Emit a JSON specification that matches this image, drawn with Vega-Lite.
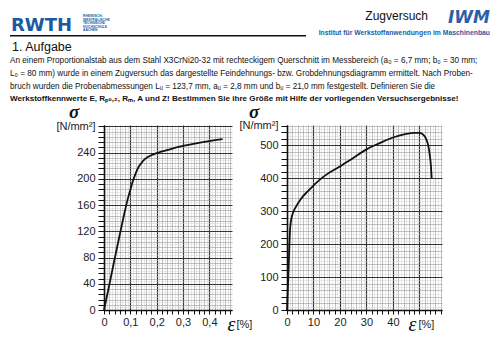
{
  "$schema": "https://vega.github.io/schema/vega-lite/v6.json",
  "padding": {"left": 10, "top": 8, "right": 8, "bottom": 5},
  "bounds": "flush",
  "spacing": 0,
  "config": {
    "font": "Liberation Sans",
    "view": {"stroke": null},
    "axis": {
      "labelFont": "Liberation Sans", "labelFontSize": 11, "labelColor": "#222",
      "labelFlush": false, "labelOverlap": false, "labelBound": false,
      "domainColor": "#111", "domainWidth": 1.5, "tickColor": "#111", "tickWidth": 1,
      "grid": true
    }
  },
  "vconcat": [
    {
      "hconcat": [
        {
          "width": 72, "height": 1.5,
          "data": {"values": [{}]},
          "mark": {"type": "text", "text": ""},
          "view": {"fill": "#111", "stroke": null},
          "title": {"text": "RWTH", "anchor": "start", "frame": "group", "orient": "top", "font": "DejaVu Sans", "fontSize": 18, "fontWeight": "bold", "color": "#1b5aa3", "offset": -5, "dx": 1}
        },
        {
          "width": 28, "height": 1.5,
          "data": {"values": [{}]},
          "mark": {"type": "text", "text": ""},
          "view": {"fill": "#111", "stroke": null},
          "title": {"text": ["RHEINISCH-", "WESTFÄLISCHE", "TECHNISCHE", "HOCHSCHULE", "AACHEN"], "anchor": "start", "frame": "group", "orient": "top", "fontSize": 3.4, "lineHeight": 3.6, "fontWeight": "bold", "color": "#1b5aa3", "offset": -2, "dx": 1}
        },
        {
          "width": 196, "height": 1.5,
          "data": {"values": [{}]},
          "mark": {"type": "text", "text": ""},
          "view": {"fill": "#111", "stroke": null}
        },
        {
          "width": 130, "height": 1.5,
          "data": {"values": [{}]},
          "mark": {"type": "text", "text": ""},
          "title": {"text": "Zugversuch", "anchor": "end", "frame": "group", "orient": "top", "fontSize": 12, "fontWeight": "normal", "color": "#111", "offset": 7, "dx": -8}
        },
        {
          "width": 54, "height": 1.5,
          "data": {"values": [{}]},
          "mark": {"type": "text", "text": ""},
          "title": {"text": "IWM", "subtitle": "Institut für Werkstoffanwendungen im Maschinenbau", "anchor": "end", "frame": "group", "orient": "top", "font": "DejaVu Sans", "fontSize": 17, "fontWeight": "bold", "fontStyle": "italic", "color": "#2f5ea8", "subtitleFont": "Liberation Sans", "subtitleFontSize": 6.8, "subtitleFontWeight": "bold", "subtitleColor": "#2a5aa5", "subtitlePadding": 3, "offset": -8}
        }
      ],
      "spacing": 0,
      "bounds": "flush"
    },
    {
      "width": 480, "height": 0.01,
      "data": {"values": [{}]},
      "mark": {"type": "text", "text": ""},
      "title": {"text": "1. Aufgabe", "orient": "bottom", "anchor": "start", "frame": "group", "fontSize": 12.5, "fontWeight": "normal", "color": "#111", "offset": 1, "dx": 2}
    },
    {
      "width": 480, "height": 88.5,
      "data": {"values": [{}]},
      "mark": {"type": "text", "text": ""},
      "title": {
        "text": [
          "An einem Proportionalstab aus dem Stahl X3CrNi20-32 mit rechteckigem Querschnitt im Messbereich (a₀ = 6,7 mm; b₀ = 30 mm;",
          "L₀ = 80 mm) wurde in einem Zugversuch das dargestellte Feindehnungs- bzw. Grobdehnungsdiagramm ermittelt. Nach Proben-",
          "bruch wurden die Probenabmessungen Lᵤ = 123,7 mm, aᵤ = 2,8 mm und bᵤ = 21,0 mm festgestellt. Definieren Sie die"
        ],
        "subtitle": "Werkstoffkennwerte E, Rₚ₀,₂, Rₘ, A und Z! Bestimmen Sie ihre Größe mit Hilfe der vorliegenden Versuchsergebnisse!",
        "orient": "top", "anchor": "start", "frame": "group",
        "fontSize": 8.2, "lineHeight": 13, "fontWeight": "normal", "color": "#111",
        "subtitleFontSize": 8.1, "subtitleFontWeight": "bold", "subtitleColor": "#111", "subtitleLineHeight": 13, "subtitlePadding": 4,
        "offset": -68.5
      }
    },
    {
      "hconcat": [
        {
          "width": 39, "height": 185,
          "data": {"values": [{}]},
          "mark": {"type": "text", "text": ""}
        },
        {
          "width": 128, "height": 185,
          "data": {"values": [
            {"e": 0, "s": 0}, {"e": 0.02, "s": 38}, {"e": 0.04, "s": 77}, {"e": 0.06, "s": 115},
            {"e": 0.08, "s": 152}, {"e": 0.09, "s": 169}, {"e": 0.1, "s": 183}, {"e": 0.11, "s": 197},
            {"e": 0.12, "s": 208}, {"e": 0.13, "s": 217}, {"e": 0.14, "s": 223}, {"e": 0.15, "s": 228},
            {"e": 0.17, "s": 234}, {"e": 0.2, "s": 239}, {"e": 0.25, "s": 245}, {"e": 0.3, "s": 250},
            {"e": 0.35, "s": 254}, {"e": 0.4, "s": 257.5}, {"e": 0.45, "s": 260.5}
          ]},
          "title": {"text": "σ", "anchor": "start", "align": "center", "frame": "group", "orient": "top", "font": "Liberation Serif", "fontStyle": "italic", "fontWeight": "bold", "fontSize": 19, "color": "#111", "dx": -30, "offset": -2},
          "mark": {"type": "line", "color": "#111", "strokeWidth": 1.8, "interpolate": "monotone"},
          "encoding": {
            "x": {
              "field": "e", "type": "quantitative",
              "scale": {"domain": [0, 0.486], "nice": false, "zero": false},
              "axis": {
                "values": [0,0.01,0.02,0.03,0.04,0.05,0.06,0.07,0.08,0.09,0.1,0.11,0.12,0.13,0.14,0.15,0.16,0.17,0.18,0.19,0.2,0.21,0.22,0.23,0.24,0.25,0.26,0.27,0.28,0.29,0.3,0.31,0.32,0.33,0.34,0.35,0.36,0.37,0.38,0.39,0.4,0.41,0.42,0.43,0.44,0.45,0.46,0.47,0.48],
                "labelExpr": "round(datum.value*100) % 10 == 0 ? (datum.value == 0 ? '0' : replace(format(datum.value, '.1f'), '.', ',')) : ''",
                "labelPadding": 2,
                "tickSize": 4,
                "tickOpacity": {"condition": {"test": "round(datum.value*100) % 2 == 0", "value": 1}, "value": 0},
                "gridColor": {"condition": [{"test": "round(datum.value*100) % 10 == 0", "value": "#333333"}, {"test": "round(datum.value*100) % 2 == 0", "value": "#999999"}], "value": "#d2d2d2"},
                "gridWidth": {"condition": [{"test": "round(datum.value*100) % 10 == 0", "value": 1.2}, {"test": "round(datum.value*100) % 2 == 0", "value": 0.6}], "value": 0.5},
                "title": "ε", "titleFont": "Liberation Serif", "titleFontStyle": "italic", "titleFontWeight": "normal", "titleFontSize": 20, "titleColor": "#111",
                "titleX": 127, "titleY": 14, "titleAlign": "center", "titleBaseline": "middle", "titleAngle": 0
              }
            },
            "y": {
              "field": "s", "type": "quantitative",
              "scale": {"domain": [0, 282], "nice": false, "zero": false},
              "axis": {
                "values": [0,4,8,12,16,20,24,28,32,36,40,44,48,52,56,60,64,68,72,76,80,84,88,92,96,100,104,108,112,116,120,124,128,132,136,140,144,148,152,156,160,164,168,172,176,180,184,188,192,196,200,204,208,212,216,220,224,228,232,236,240,244,248,252,256,260,264,268,272,276,280],
                "labelExpr": "datum.value == 280 ? '[N/mm²]' : (datum.value % 40 == 0 ? format(datum.value, 'd') : '')",
                "labelPadding": 3,
                "tickSize": 6,
                "tickOpacity": {"condition": {"test": "datum.value % 8 == 0", "value": 1}, "value": 0},
                "gridColor": {"condition": [{"test": "datum.value % 40 == 0", "value": "#333333"}, {"test": "datum.value % 8 == 0", "value": "#999999"}], "value": "#d2d2d2"},
                "gridWidth": {"condition": [{"test": "datum.value % 40 == 0", "value": 1.2}, {"test": "datum.value % 8 == 0", "value": 0.6}], "value": 0.5},
                "title": "[%]", "titleFont": "Liberation Sans", "titleFontWeight": "normal", "titleFontSize": 11, "titleColor": "#222",
                "titleX": 132, "titleY": 199, "titleAlign": "left", "titleBaseline": "middle", "titleAngle": 0
              }
            }
          }
        },
        {
          "width": 155, "height": 185,
          "data": {"values": [
            {"e": 0, "s": 0}, {"e": 0.5, "s": 100}, {"e": 0.9, "s": 200}, {"e": 1.2, "s": 250},
            {"e": 1.6, "s": 275}, {"e": 2.5, "s": 300}, {"e": 4, "s": 322}, {"e": 6, "s": 345},
            {"e": 8, "s": 362}, {"e": 10, "s": 378}, {"e": 12.5, "s": 397}, {"e": 15, "s": 412},
            {"e": 20, "s": 436}, {"e": 25, "s": 462}, {"e": 30, "s": 488}, {"e": 35, "s": 507},
            {"e": 40, "s": 524}, {"e": 45, "s": 535}, {"e": 48, "s": 538}, {"e": 50, "s": 538},
            {"e": 51.5, "s": 532}, {"e": 52.5, "s": 520}, {"e": 53.3, "s": 500}, {"e": 53.9, "s": 470},
            {"e": 54.3, "s": 440}, {"e": 54.6, "s": 400}
          ]},
          "title": {"text": "σ", "anchor": "start", "align": "center", "frame": "group", "orient": "top", "font": "Liberation Serif", "fontStyle": "italic", "fontWeight": "bold", "fontSize": 19, "color": "#111", "dx": -33, "offset": -2},
          "mark": {"type": "line", "color": "#111", "strokeWidth": 1.8, "interpolate": "monotone"},
          "encoding": {
            "x": {
              "field": "e", "type": "quantitative",
              "scale": {"domain": [0, 58.5], "nice": false, "zero": false},
              "axis": {
                "values": [0,1,2,3,4,5,6,7,8,9,10,11,12,13,14,15,16,17,18,19,20,21,22,23,24,25,26,27,28,29,30,31,32,33,34,35,36,37,38,39,40,41,42,43,44,45,46,47,48,49,50,51,52,53,54,55,56,57,58],
                "labelExpr": "datum.value % 10 == 0 && datum.value <= 40 ? format(datum.value, 'd') : ''",
                "labelPadding": 2,
                "tickSize": 4,
                "tickOpacity": {"condition": {"test": "datum.value % 2 == 0", "value": 1}, "value": 0},
                "gridColor": {"condition": [{"test": "datum.value % 10 == 0", "value": "#333333"}, {"test": "datum.value % 2 == 0", "value": "#999999"}], "value": "#d2d2d2"},
                "gridWidth": {"condition": [{"test": "datum.value % 10 == 0", "value": 1.2}, {"test": "datum.value % 2 == 0", "value": 0.6}], "value": 0.5},
                "title": "ε", "titleFont": "Liberation Serif", "titleFontStyle": "italic", "titleFontWeight": "normal", "titleFontSize": 20, "titleColor": "#111",
                "titleX": 125, "titleY": 14, "titleAlign": "center", "titleBaseline": "middle", "titleAngle": 0
              }
            },
            "y": {
              "field": "s", "type": "quantitative",
              "scale": {"domain": [0, 562], "nice": false, "zero": false},
              "axis": {
                "values": [0,10,20,30,40,50,60,70,80,90,100,110,120,130,140,150,160,170,180,190,200,210,220,230,240,250,260,270,280,290,300,310,320,330,340,350,360,370,380,390,400,410,420,430,440,450,460,470,480,490,500,510,520,530,540,550,560],
                "labelExpr": "datum.value == 560 ? '[N/mm²]' : (datum.value % 100 == 0 ? format(datum.value, 'd') : '')",
                "labelPadding": 3,
                "tickSize": 6,
                "tickOpacity": {"condition": {"test": "datum.value % 20 == 0", "value": 1}, "value": 0},
                "gridColor": {"condition": [{"test": "datum.value % 100 == 0", "value": "#333333"}, {"test": "datum.value % 20 == 0", "value": "#999999"}], "value": "#d2d2d2"},
                "gridWidth": {"condition": [{"test": "datum.value % 100 == 0", "value": 1.2}, {"test": "datum.value % 20 == 0", "value": 0.6}], "value": 0.5},
                "title": "[%]", "titleFont": "Liberation Sans", "titleFontWeight": "normal", "titleFontSize": 11, "titleColor": "#222",
                "titleX": 131, "titleY": 199, "titleAlign": "left", "titleBaseline": "middle", "titleAngle": 0
              }
            }
          }
        }
      ],
      "spacing": 55,
      "bounds": "flush"
    }
  ]
}
